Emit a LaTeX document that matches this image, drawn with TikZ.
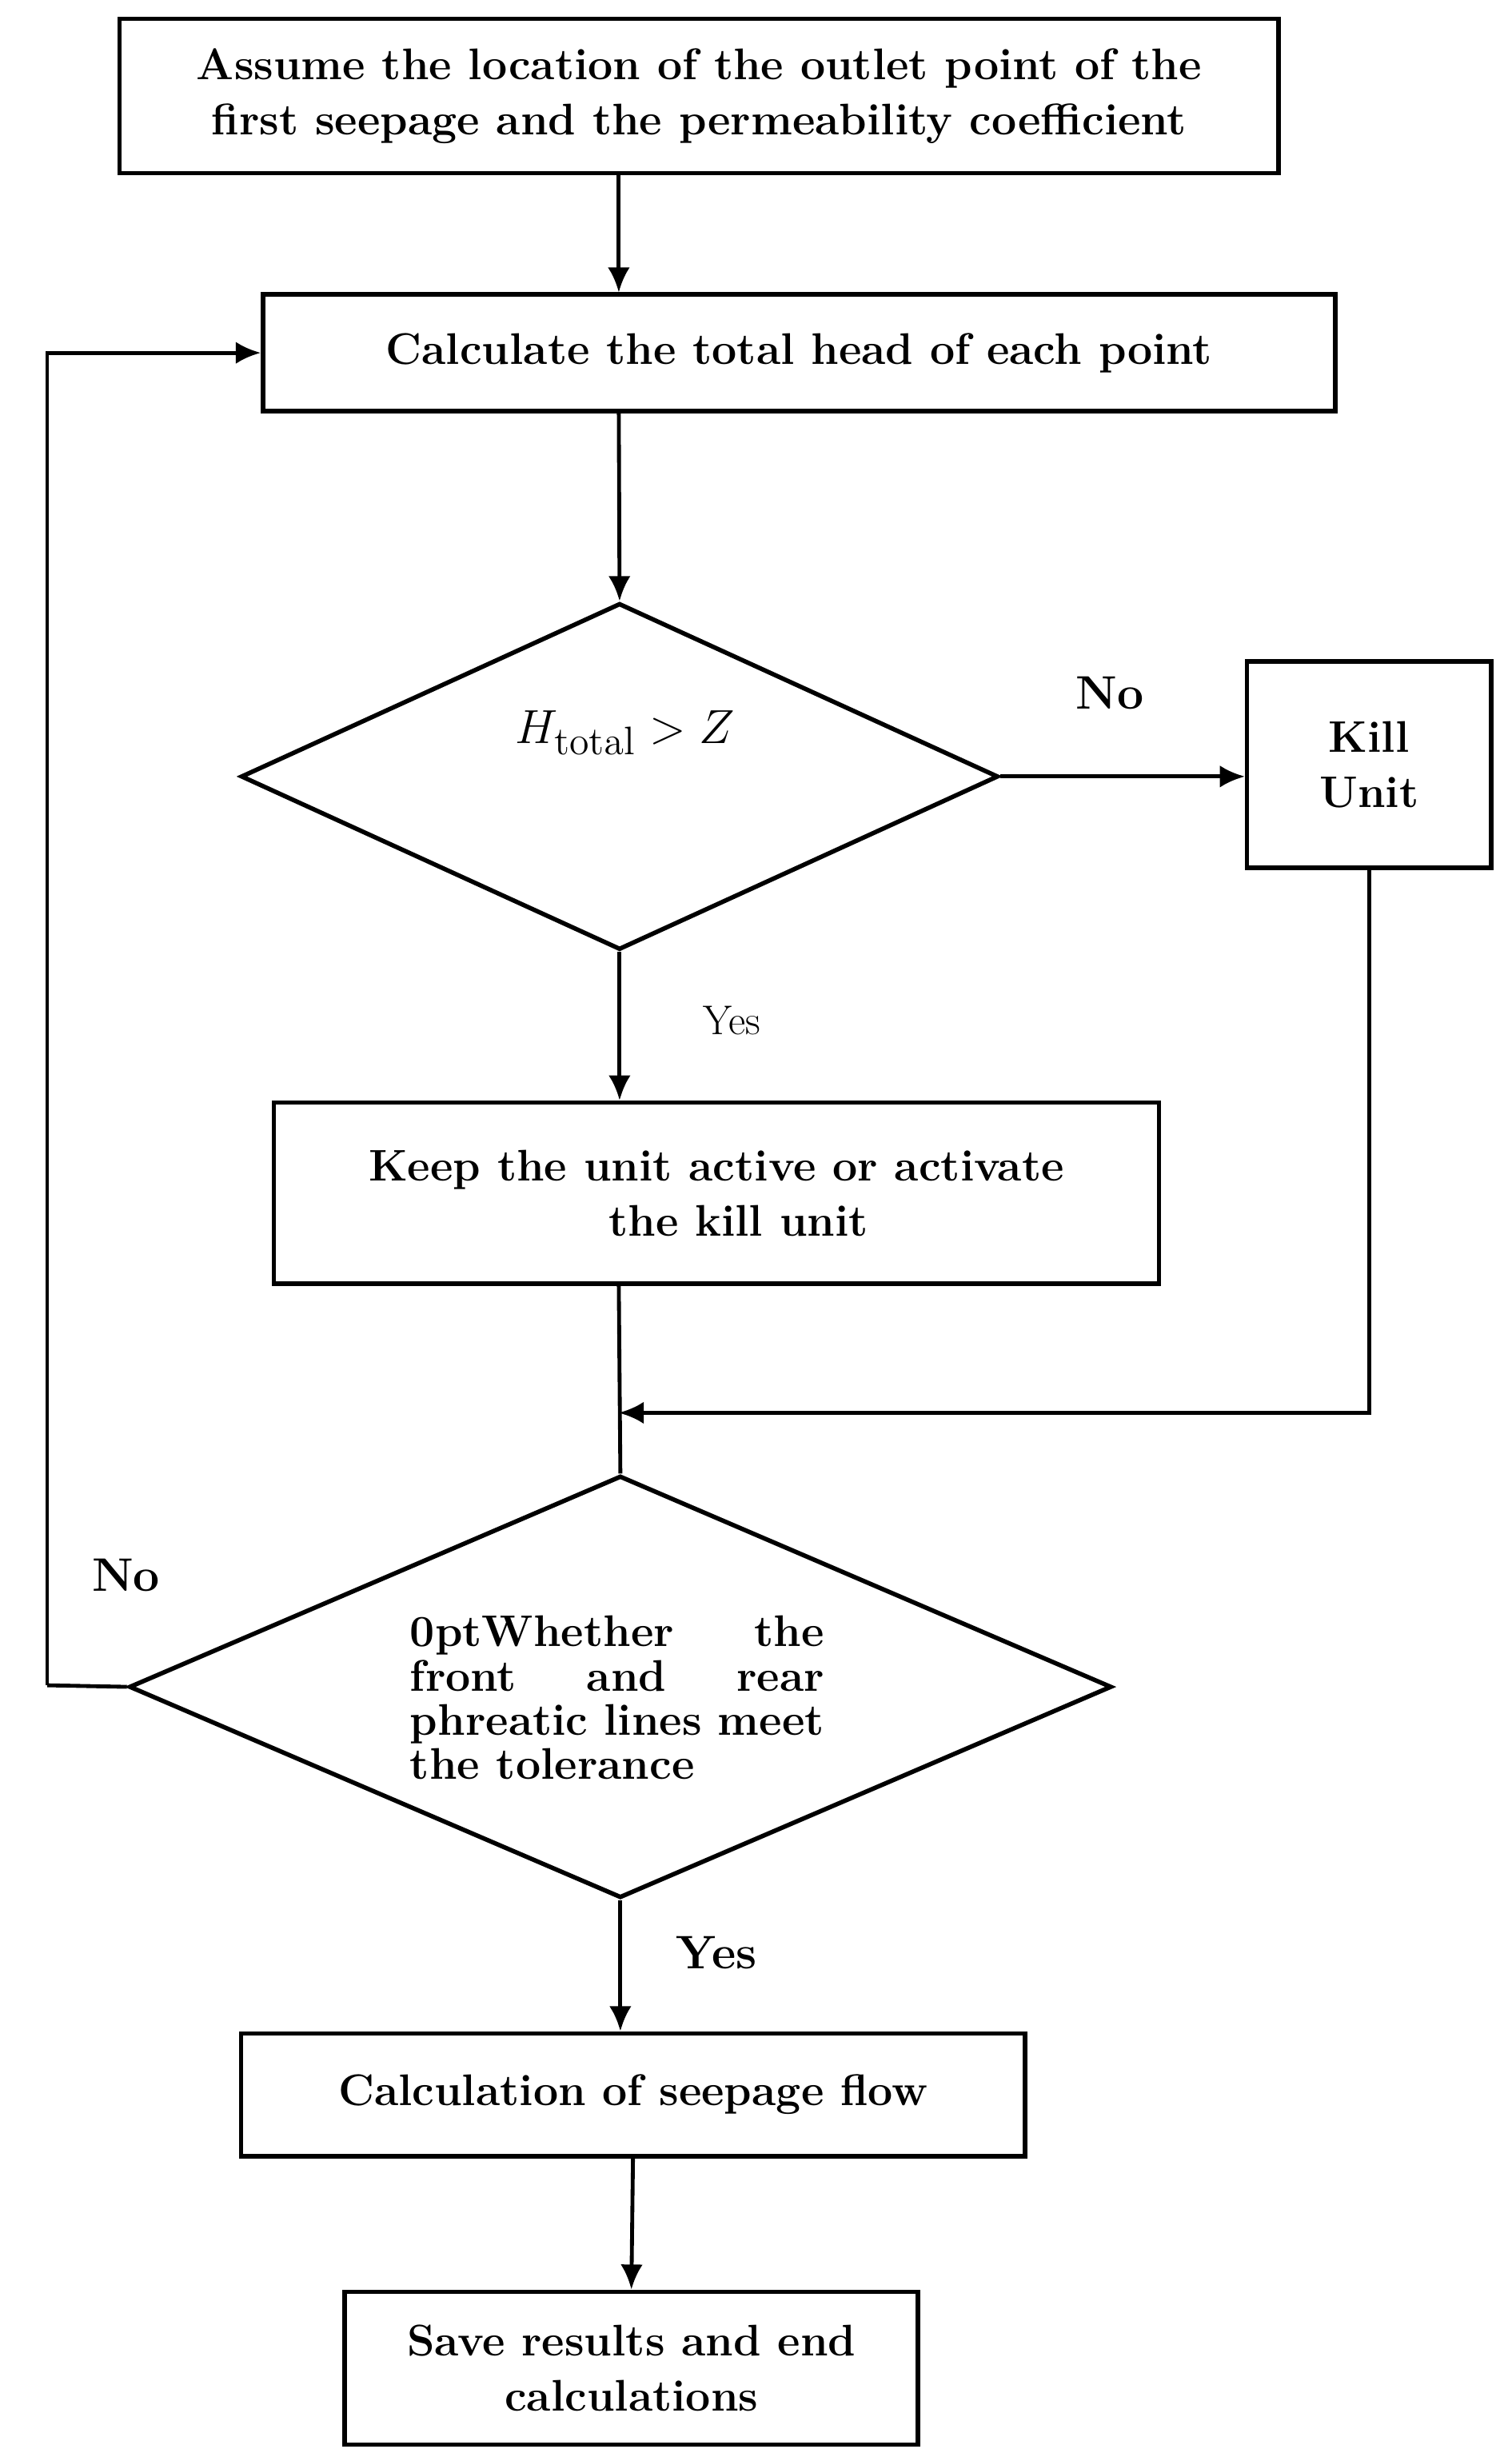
\documentclass[tikz,border=0pt]{standalone}
\usepackage{tikz}
\usetikzlibrary{shapes.geometric,arrows.meta}
\tikzset{
  box/.style={draw, line width=1.6pt, inner sep=0pt, align=center, font=\bfseries\fontsize{16}{20}\selectfont},
  dia/.style={draw, diamond, line width=1.6pt, inner sep=0pt, text width=0.1cm},
  lbl/.style={font=\fontsize{15}{20}\selectfont},
  arr/.style={line width=1.4pt, -{Latex[length=9pt,width=8pt]}},
  ln/.style={line width=1.4pt}
}
\begin{document}
\begin{tikzpicture}[x=0.02cm,y=-0.02cm]
    \useasboundingbox (0,0) rectangle (960,1560);

    % boxes
    \node[box, minimum width=736*0.02cm, minimum height=98*0.02cm] (start) at (444,61)
      {Assume the location of the outlet point of the\\first seepage and the permeability coefficient};
    \node[box, minimum width=681*0.02cm, minimum height=74*0.02cm] (head) at (507.5,224)
      {Calculate the total head of each point};
    \node[dia, minimum width=481*0.02cm, minimum height=220*0.02cm] (check) at (393.5,493) {};
    \node[lbl, font=\fontsize{19}{20}\selectfont] (cond) at (397,465) {$H_{\mathrm{total}} > Z$};
    \node[box, minimum width=155*0.02cm, minimum height=131*0.02cm] (kill) at (869.5,485.5)
      {Kill\\Unit};
    \node[box, minimum width=562*0.02cm, minimum height=115*0.02cm] (keep) at (455,757.5)
      {Keep the unit active or activate\\\quad the kill unit};
    \node[dia, minimum width=624*0.02cm, minimum height=268*0.02cm] (tol) at (394,1071) {};
    \node[box, draw=none, text width=263*0.02cm, align=justify, font=\bfseries\fontsize{16}{16}\selectfont\hyphenpenalty=10000] (toltext) at (392,1078)
      {Whether the front and rear phreatic lines meet the tolerance};
    \node[box, minimum width=498*0.02cm, minimum height=78*0.02cm] (flow) at (402,1330)
      {Calculation of seepage flow};
    \node[box, minimum width=364*0.02cm, minimum height=97*0.02cm] (save) at (401,1503.5)
      {Save results and end\\calculations};

    % labels
    \node[lbl, font=\bfseries\fontsize{17}{20}\selectfont] (no1) at (705,440) {No};
    \node[lbl] (yes1) at (465,648) {Yes};
    \node[lbl, font=\bfseries\fontsize{17}{20}\selectfont] (no2) at (80,1000) {No};
    \node[lbl, font=\bfseries\fontsize{17}{20}\selectfont] (yes2) at (455,1240) {Yes};

    % connectors
    \coordinate (join) at (393,897);
    \coordinate (loop) at (30,1070);
    \draw[arr] (start.south -| 393,0) -- (head.north -| 393,0);
    \draw[arr] (head.south -| 393,0) -- (check.north);
    \draw[arr] (check.east) -- (check.east -| kill.west);
    \draw[arr] (check.south) -- (keep.north -| check.south);
    \draw[ln] (keep.south -| 393,0) -- (tol.north);
    \draw[arr] (kill.south) |- (join);
    \draw[ln] (tol.west) -- (loop);
    \draw[arr] (loop) |- (head.west);
    \draw[arr] (tol.south) -- (flow.north -| tol.south);
    \draw[arr] (flow.south) -- (save.north);
\end{tikzpicture}
\end{document}
